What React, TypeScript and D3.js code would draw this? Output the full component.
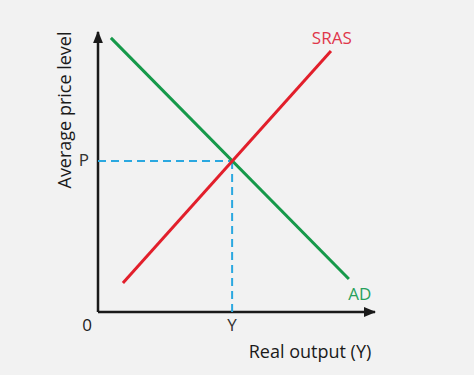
import React from 'react';
import * as d3 from 'd3';

// Curve end points in chart units (0..100 on both axes)
const adCurve: [number, number][] = [[4.6, 97.9], [89.6, 11.8]];
const srasCurve: [number, number][] = [[8.9, 10.4], [83.2, 93.2]];
const equilibrium = { x: 47.9, y: 53.9 };
const curveLabels = [
    { name: 'SRAS', x: 83.5, y: 97.5, color: '#e0364a' },
    { name: 'AD', x: 93.5, y: 6, color: '#27a05c' },
];

export default function App() {
    const width = 474;
    const height = 375;
    const origin = { x: 98, y: 312 };

    const x = d3.scaleLinear().domain([0, 100]).range([origin.x, 378]);
    const y = d3.scaleLinear().domain([0, 100]).range([origin.y, 32]);

    const line = d3.line<[number, number]>()
        .x(d => x(d[0]))
        .y(d => y(d[1]));

    const font = '"Open Sans", "Noto Sans", sans-serif';

    return (
        <svg width={width} height={height} style={{ position: 'absolute', left: 0, top: 0, background: '#f2f2f2' }}>
            <defs>
                <marker id="arrow" viewBox="0 0 10 10" refX="9" refY="5" markerWidth="5" markerHeight="5" orient="auto">
                    <path d="M0,1 L10,5 L0,9 Z" fill="#1a1a1a" />
                </marker>
            </defs>

            {/* axes */}
            <line x1={origin.x} y1={origin.y} x2={origin.x} y2={y(100)} stroke="#1a1a1a" strokeWidth={2.5} markerEnd="url(#arrow)" />
            <line x1={origin.x} y1={origin.y} x2={375} y2={origin.y} stroke="#1a1a1a" strokeWidth={2.5} markerEnd="url(#arrow)" />

            {/* equilibrium guides */}
            <line x1={x(0)} y1={y(equilibrium.y)} x2={x(equilibrium.x)} y2={y(equilibrium.y)}
                stroke="#2aa8e0" strokeWidth={2} strokeDasharray="8,5" />
            <line x1={x(equilibrium.x)} y1={y(equilibrium.y)} x2={x(equilibrium.x)} y2={y(0)}
                stroke="#2aa8e0" strokeWidth={2} strokeDasharray="8,5" />

            {/* curves */}
            <path d={line(adCurve) || ''} stroke="#16994a" strokeWidth={3} fill="none" />
            <path d={line(srasCurve) || ''} stroke="#e21f2b" strokeWidth={3} fill="none" />

            {/* labels */}
            <g fontFamily={font} fontSize={17}>
                {curveLabels.map(l => (
                    <text key={l.name} x={x(l.x)} y={y(l.y)} fill={l.color} textAnchor="middle" dominantBaseline="middle">{l.name}</text>
                ))}
                <text x={89} y={y(equilibrium.y)} fill="#333" textAnchor="end" dominantBaseline="middle">P</text>
                <text x={x(equilibrium.x)} y={326} fill="#333" textAnchor="middle" dominantBaseline="middle">Y</text>
                <text x={87} y={326} fill="#1a1a1a" textAnchor="middle" dominantBaseline="middle">0</text>
            </g>
            <g fontFamily={font} fontSize={18} fill="#1a1a1a">
                <text x={310} y={353} textAnchor="middle" dominantBaseline="middle">Real output (Y)</text>
                <text transform={`translate(66,110) rotate(-90)`} textAnchor="middle" dominantBaseline="middle">Average price level</text>
            </g>
        </svg>
    );
}
